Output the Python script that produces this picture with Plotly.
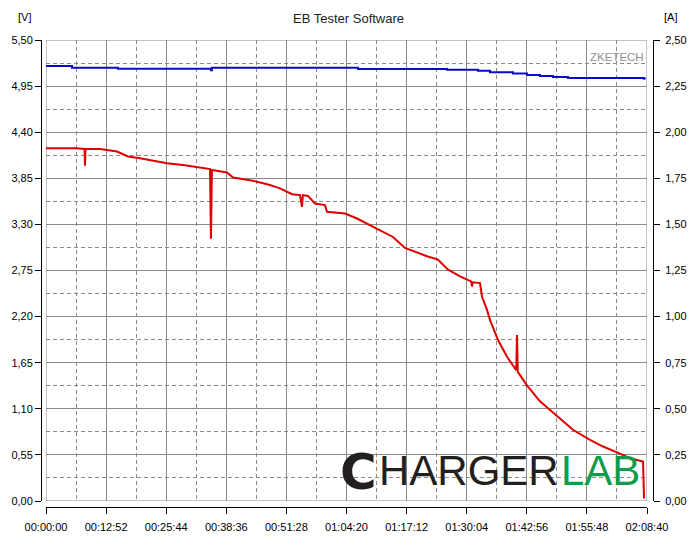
import plotly.graph_objects as go

# ---- data ----
volt_t = [0, 385, 495, 501, 507, 694, 912, 1053, 1207, 1362, 1554, 1760, 1940, 2107, 2119, 2131,
          2325, 2402, 2659, 2877, 3006, 3160, 3263, 3288, 3300, 3365, 3455, 3584, 3609, 3841,
          3995, 4162, 4290, 4457, 4611, 4766, 4894, 5035, 5164, 5318, 5460, 5472, 5484, 5575,
          5600, 5665, 5703, 5806, 5922, 6040, 6050, 6060, 6178, 6345, 6564, 6769, 6988, 7155,
          7335, 7502, 7669, 7682]
volts = [4.21, 4.21, 4.20, 4.00, 4.20, 4.20, 4.17, 4.11, 4.09, 4.06, 4.03, 4.01, 3.98, 3.96, 3.13, 3.95,
         3.92, 3.86, 3.82, 3.77, 3.73, 3.66, 3.65, 3.51, 3.65, 3.64, 3.55, 3.53, 3.45, 3.43,
         3.37, 3.29, 3.23, 3.15, 3.02, 2.96, 2.92, 2.88, 2.76, 2.68, 2.62, 2.56, 2.61, 2.60,
         2.44, 2.28, 2.16, 1.92, 1.72, 1.56, 1.98, 1.54, 1.38, 1.19, 1.01, 0.85, 0.73, 0.65,
         0.58, 0.51, 0.47, 0.03]

cur_t = [0, 334, 925, 2119, 2131, 4008, 5151, 5549, 5703, 5999, 6179, 6346, 6512, 6705, 7680, 7695]
cur_a = [2.359, 2.350, 2.344, 2.336, 2.350, 2.343, 2.339, 2.333, 2.325, 2.319, 2.310, 2.305,
         2.299, 2.294, 2.290, 2.288]

x_tickvals = [0, 772, 1544, 2316, 3088, 3860, 4632, 5404, 6176, 6948, 7720]
x_ticktext = ["00:00:00", "00:12:52", "00:25:44", "00:38:36", "00:51:28", "01:04:20",
              "01:17:12", "01:30:04", "01:42:56", "01:55:48", "02:08:40"]
x_minor = [386, 1158, 1930, 2702, 3474, 4246, 5018, 5790, 6562, 7334]

v_tickvals = [0, 0.55, 1.10, 1.65, 2.20, 2.75, 3.30, 3.85, 4.40, 4.95, 5.50]
v_ticktext = ["0,00", "0,55", "1,10", "1,65", "2,20", "2,75", "3,30", "3,85", "4,40", "4,95", "5,50"]
v_minor = [0.275, 0.825, 1.375, 1.925, 2.475, 3.025, 3.575, 4.125, 4.675, 5.225]

a_tickvals = [0, 0.25, 0.5, 0.75, 1.0, 1.25, 1.5, 1.75, 2.0, 2.25, 2.5]
a_ticktext = ["0,00", "0,25", "0,50", "0,75", "1,00", "1,25", "1,50", "1,75", "2,00", "2,25", "2,50"]

W, H = 697, 547
def px(x):
    return x / W
def py(y):
    return 1 - y / H

FONT = "Liberation Sans, Arial, sans-serif"
GRID = "#8a8a8a"

fig = go.Figure()
fig.add_trace(go.Scatter(x=volt_t, y=volts, mode="lines", line=dict(color="#e00000", width=2),
                         yaxis="y", hoverinfo="skip"))
fig.add_trace(go.Scatter(x=cur_t, y=cur_a, mode="lines", line=dict(color="#0a0acc", width=2, shape="hv"),
                         yaxis="y2", hoverinfo="skip"))

axis_common = dict(showline=True, linecolor="black", linewidth=1, ticks="outside", ticklen=6,
                   tickcolor="black", tickwidth=1, zeroline=False, automargin=False,
                   tickfont=dict(family=FONT, size=11, color="black"))

fig.update_layout(
    width=W, height=H, margin=dict(l=0, r=0, t=0, b=0, autoexpand=False),
    plot_bgcolor="white", paper_bgcolor="white", showlegend=False,
    xaxis=dict(domain=[px(46), px(647)], range=[0, 7720], anchor="free", position=py(507),
               tickmode="array", tickvals=x_tickvals, ticktext=x_ticktext, ticklabelstandoff=4,
               showgrid=True, gridcolor=GRID, gridwidth=1,
               minor=dict(tickmode="array", tickvals=x_minor, showgrid=True, gridcolor=GRID,
                          griddash="4px,3px", gridwidth=1, ticks=""),
               **axis_common),
    yaxis=dict(domain=[py(501), py(40)], range=[0, 5.5], anchor="free", position=px(41), side="left",
               tickmode="array", tickvals=v_tickvals, ticktext=v_ticktext,
               showgrid=True, gridcolor=GRID, gridwidth=1,
               minor=dict(tickmode="array", tickvals=v_minor, showgrid=True, gridcolor=GRID,
                          griddash="4px,3px", gridwidth=1, ticks=""),
               **axis_common),
    yaxis2=dict(domain=[py(501), py(40)], range=[0, 2.5], anchor="free", position=px(653), side="right",
                overlaying="y", tickmode="array", tickvals=a_tickvals, ticktext=a_ticktext,
                ticklabelstandoff=3, showgrid=False, **axis_common),
)

fig.add_shape(type="rect", xref="x", yref="y", x0=0, x1=7720, y0=0, y1=5.5,
              line=dict(color=GRID, width=1), layer="below")

annos = [
    dict(text="EB Tester Software", x=px(348), y=py(19), font=dict(family=FONT, size=13, color="#222")),
    dict(text="[V]", x=px(24), y=py(17), font=dict(family=FONT, size=11, color="black")),
    dict(text="[A]", x=px(670), y=py(17), font=dict(family=FONT, size=11, color="black")),
    dict(text="ZKETECH", x=px(617), y=py(57), font=dict(family=FONT, size=11.5, color="#909090")),
]
for a in annos:
    fig.add_annotation(xref="paper", yref="paper", showarrow=False, xanchor="center", yanchor="middle", **a)

fig.add_annotation(xref="paper", yref="paper", showarrow=False, xanchor="center", yanchor="middle",
                   x=px(358), y=py(472), text="<b>C</b>",
                   font=dict(family="DejaVu Sans, sans-serif", size=50, color="#231f20"))
fig.add_annotation(xref="paper", yref="paper", showarrow=False, xanchor="left", yanchor="middle",
                   x=px(377), y=py(471), text="HARGER",
                   font=dict(family=FONT, size=42, color="#231f20"))
fig.add_annotation(xref="paper", yref="paper", showarrow=False, xanchor="left", yanchor="middle",
                   x=px(559), y=py(471), text="LAB",
                   font=dict(family=FONT, size=42, color="#129b4c"))

fig.write_html("out.html", config={"displayModeBar": False},
               post_script="document.body.style.margin='0';document.body.style.overflow='hidden';")
